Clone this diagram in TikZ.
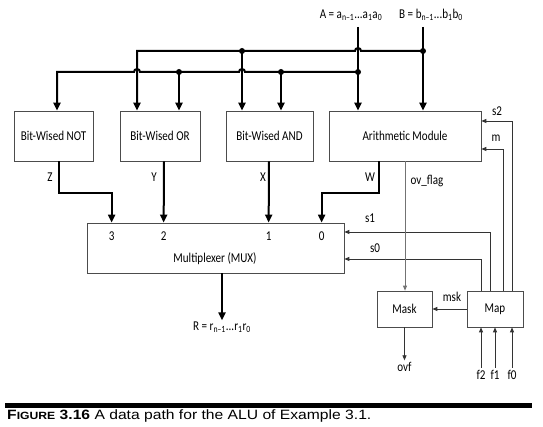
\documentclass[tikz,border=0pt]{standalone}
\usepackage{fontspec}
\setmainfont{Carlito}[FakeStretch=0.82]
\newfontfamily\capfont{Liberation Sans}[FakeStretch=1.16]
\usetikzlibrary{arrows.meta, calc}

\begin{document}
\begin{tikzpicture}[x=1pt, y=1pt,
    block/.style={draw=black!70, line width=0.7pt, minimum height=50pt, inner sep=0pt, font=\fontsize{13.5}{14}\selectfont},
    small block/.style={block, minimum height=36pt},
    lbl/.style={inner sep=1pt, font=\fontsize{13.5}{14}\selectfont},
    bus/.style={line width=2pt, line join=miter},
    dat/.style={bus, -{Triangle[length=8pt, width=7pt]}},
    sig/.style={line width=0.8pt, black!80, -{Triangle[length=5pt, width=4pt]}},
    flag/.style={sig, black!55},
    dot/.style={circle, fill, inner sep=0pt, minimum size=6pt}]
\useasboundingbox (0,0) rectangle (543,427);

% Function blocks
\node[block, minimum width=79pt] (NOT) at (53.5,291) {Bit-Wised NOT};
\node[block, minimum width=80pt] (OR) at (160,291) {Bit-Wised OR};
\node[block, minimum width=87pt] (AND) at (269.5,291) {Bit-Wised AND};
\node[block, minimum width=152pt] (ARITH) at (405,291) {Arithmetic Module};

% Multiplexer and its ports
\node[block, minimum width=257pt] (MUX) at (215.5,179) {};
\node[lbl] (muxname) at (215,168) {Multiplexer (MUX)};
\coordinate (p3) at ($(MUX.north west)+(25,0)$);
\coordinate (p2) at ($(MUX.north west)+(77,0)$);
\coordinate (p1) at ($(MUX.north west)+(182,0)$);
\coordinate (p0) at ($(MUX.north west)+(235,0)$);
\node[lbl, below=8pt] (l3) at (p3) {3};
\node[lbl, below=8pt] (l2) at (p2) {2};
\node[lbl, below=8pt] (l1) at (p1) {1};
\node[lbl, below=8pt] (l0) at (p0) {0};

% Control blocks
\node[small block, minimum width=55pt] (MASK) at (404.5,118) {Mask};
\node[small block, minimum width=56pt] (MAP) at (495,118) {Map};

% Inputs A and B
\node[lbl] (Alab) at (351,412) {A = a\textsubscript{n–1}...a\textsubscript{1}a\textsubscript{0}};
\node[lbl] (Blab) at (431,412) {B = b\textsubscript{n–1}...b\textsubscript{1}b\textsubscript{0}};
\coordinate (Ain) at (358,400);
\coordinate (Bin) at (423,400);
\coordinate (upB) at (423,376);
\coordinate (upA) at (242,376);
\coordinate (upOR) at (137,376);
\coordinate (loA) at (358,355);
\coordinate (loAND) at (281,355);
\coordinate (loOR) at (179,355);
\coordinate (loNOT) at (57,355);

\draw[dat] (Ain) -- (Ain |- ARITH.north);
\draw[dat] (Bin) -- (Bin |- ARITH.north);

% B bus, hopping over A
\draw[dat] (upB) -- ($(Ain |- upB)+(3,0)$) arc (0:180:3) -- (upOR) -- (upOR |- OR.north);
\draw[dat] (upA) -- (upA |- AND.north);

% A bus, hopping over B
\draw[dat] (loA) -- ($(upA |- loA)+(3,0)$) arc (0:180:3) -- ($(upOR |- loA)+(3,0)$) arc (0:180:3) -- (loNOT) -- (loNOT |- NOT.north);
\draw[dat] (loOR) -- (loOR |- OR.north);
\draw[dat] (loAND) -- (loAND |- AND.north);

\foreach \d in {upB, upA, loA, loOR, loAND}
    \node[dot] at (\d) {};

% Results into the multiplexer
\draw[dat] ([xshift=5.5pt]NOT.south) -- ++(0,-32) -| (p3);
\draw[dat] ([xshift=4pt]OR.south) -- (p2);
\draw[dat] ([xshift=-0.5pt]AND.south) -- (p1);
\draw[dat] ([xshift=-26pt]ARITH.south) -- ++(0,-32) -| (p0);
\node[lbl] (Z) at (50,250) {Z};
\node[lbl] (Y) at (154,250) {Y};
\node[lbl] (X) at (263,250) {X};
\node[lbl] (W) at (370,250) {W};

% Output R
\draw[dat] ([xshift=6.5pt]MUX.south) -- ++(0,-47) coordinate (Rend);
\node[lbl, below=0pt] (Rlab) at (Rend) {R = r\textsubscript{n–1}...r\textsubscript{1}r\textsubscript{0}};

% Select lines from Map
\draw[sig] ([xshift=17pt]MAP.north) |- ([yshift=15pt]ARITH.east);
\draw[sig] ([xshift=8pt]MAP.north) |- ([yshift=-13pt]ARITH.east);
\draw[sig] ([xshift=-5pt]MAP.north) |- ([yshift=16pt]MUX.east);
\draw[sig] ([xshift=-14pt]MAP.north) |- ([yshift=-11pt]MUX.east);
\node[lbl] (s2) at (497,316) {s2};
\node[lbl] (m) at (496,289) {m};
\node[lbl] (s1) at (370,209) {s1};
\node[lbl] (s0) at (375,179) {s0};

% Overflow
\draw[flag] (ARITH.south) -- (ARITH.south |- MASK.north);
\node[lbl] (ovflag) at (427,246) {ov\_flag};
\draw[sig] (MAP.west) -- (MASK.east);
\node[lbl] (msk) at (452,130) {msk};
\draw[sig] (MASK.south) -- ++(0,-33) coordinate (ovfend);
\node[lbl, below=1pt] (ovf) at (ovfend) {ovf};

% Function code f2 f1 f0
\foreach \f/\x in {f2/481, f1/495, f0/512} {
    \coordinate (\f) at (\x,59);
    \draw[sig] (\f) -- (\f |- MAP.south);
    \node[lbl, below=1pt] at (\f) {\f};
}

% Caption
\coordinate (rulel) at (5,21.5);
\coordinate (ruler) at (532,21.5);
\draw[line width=4.5pt] (rulel) -- (ruler);
\node[anchor=base west, inner sep=0pt, font=\capfont\fontsize{13.5}{15}\selectfont] (caption) at (7,7)
    {\textbf{F{\fontsize{10.5}{12}\selectfont IGURE} 3.16} A data path for the ALU of Example 3.1.};
\end{tikzpicture}
\end{document}
